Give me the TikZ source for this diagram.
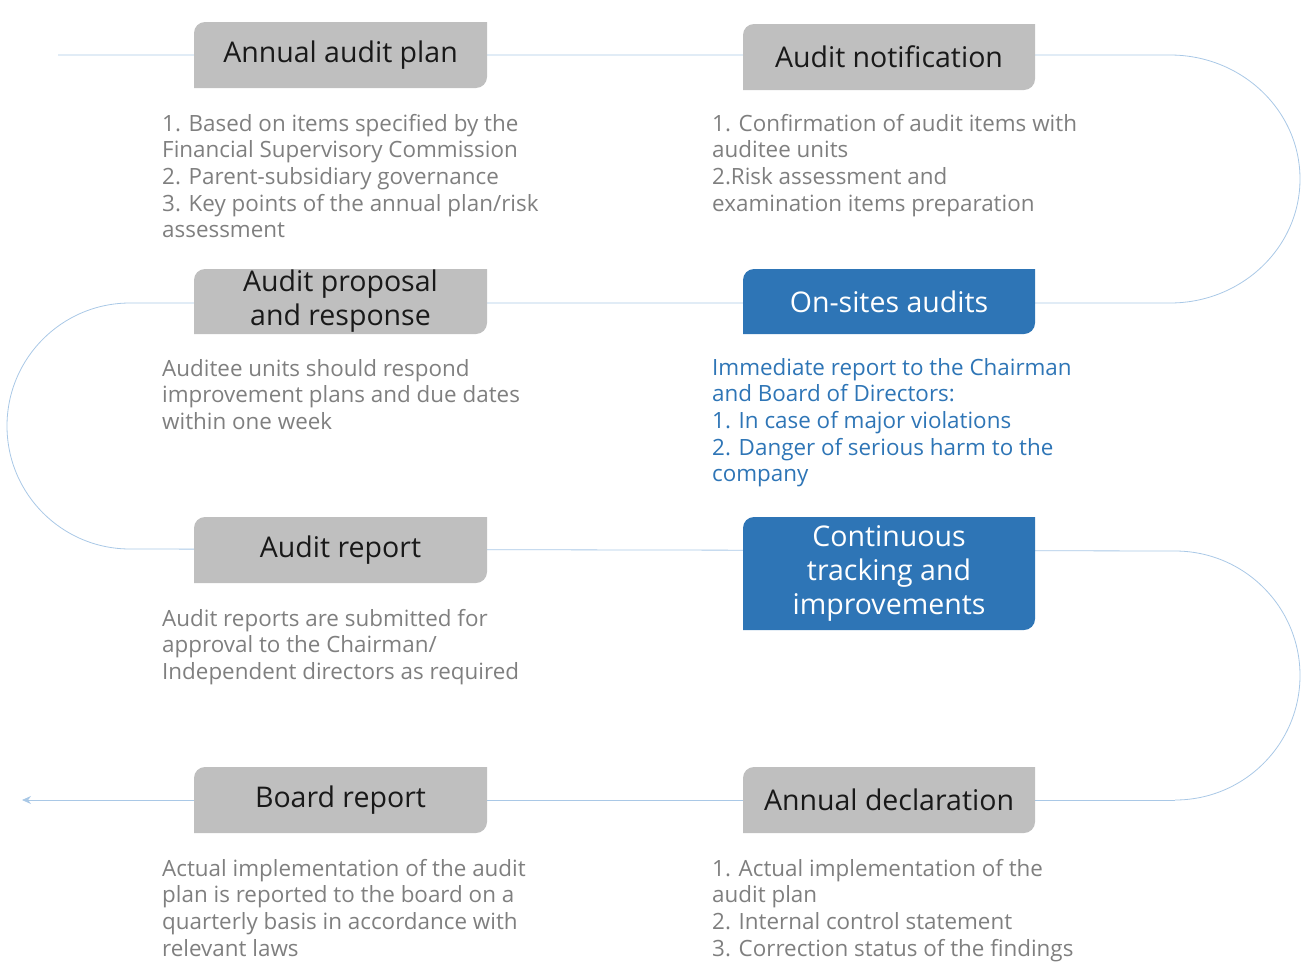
\documentclass[tikz,border=0pt]{standalone}
\usepackage{fontspec}
\usetikzlibrary{arrows.meta}
\setmainfont{Open Sans}
\begin{document}
\begin{tikzpicture}[x=1pt,y=-1pt,
  ln/.style={draw=lblue,line width=0.8pt},
  ttl/.style={align=center,font=\fontsize{28.5}{34}\selectfont},
  body/.style={anchor=north west,align=left,inner sep=0,font=\fontsize{22.4}{26.6}\selectfont,text=tgray},
]
\definecolor{lblue}{HTML}{A9C8E6}
\definecolor{bgray}{HTML}{BFBFBF}
\definecolor{bblue}{HTML}{2E75B6}
\definecolor{tgray}{HTML}{7F7F7F}
\useasboundingbox (0,0) rectangle (1315,977);
% connectors
\coordinate (s) at (58,55);
\coordinate (r1) at (1170,55);
\coordinate (r2) at (1170,303);
\coordinate (l2) at (130,303);
\coordinate (l3) at (130,549);
\coordinate (r3) at (1175,551);
\coordinate (r4) at (1175,800);
\coordinate (e) at (22,800);
\draw[ln] (s) -- (r1) arc[start angle=-90,end angle=90,x radius=130,y radius=124] -- (l2)
  arc[start angle=-90,end angle=-270,x radius=123,y radius=123] -- (r3)
  arc[start angle=-90,end angle=90,x radius=125,y radius=124.5];
\draw[ln,-{Stealth[length=9,width=8]}] (r4) -- (e);
% boxes
\newcommand\bx[8]{%
 \fill[#6] (#2,#5) -- (#2,#3+11) arc[start angle=180,end angle=270,radius=11] -- (#4,#3) -- (#4,#5-11) arc[start angle=0,end angle=90,radius=11] -- cycle;
 \node[ttl,text=#7] (#1) at ({(#2+#4)/2},{(#3+#5)/2}) {#8};}
\bx{a}{194}{22}{487}{88}{bgray}{black!90}{Annual audit plan}
\bx{b}{743}{24}{1035}{90}{bgray}{black!90}{Audit notification}
\bx{c}{194}{269}{487}{334}{bgray}{black!90}{Audit proposal\\and response}
\bx{d}{743}{269}{1035}{334}{bblue}{white}{On-sites audits}
\bx{f}{194}{517}{487}{583}{bgray}{black!90}{Audit report}
\bx{g}{743}{517}{1035}{630}{bblue}{white}{Continuous\\tracking and\\improvements}
\bx{h}{194}{767}{487}{833}{bgray}{black!90}{Board report}
\bx{i}{743}{767}{1035}{833}{bgray}{black!90}{Annual declaration}
% texts
\node[body] (ta) at (162,114) {1. Based on items specified by the\\Financial Supervisory Commission\\2. Parent-subsidiary governance\\3. Key points of the annual plan/risk\\assessment};
\node[body] (tb) at (712,114) {1. Confirmation of audit items with\\auditee units\\2.Risk assessment and\\examination items preparation};
\node[body] (tc) at (162,359) {Auditee units should respond\\improvement plans and due dates\\within one week};
\node[body,text=bblue] (td) at (712,358) {Immediate report to the Chairman\\and Board of Directors:\\1. In case of major violations\\2. Danger of serious harm to the\\company};
\node[body] (tf) at (162,609) {Audit reports are submitted for\\approval to the Chairman/\\Independent directors as required};
\node[body] (th) at (162,859) {Actual implementation of the audit\\plan is reported to the board on a\\quarterly basis in accordance with\\relevant laws};
\node[body] (ti) at (712,859) {1. Actual implementation of the\\audit plan\\2. Internal control statement\\3. Correction status of the findings};
\end{tikzpicture}
\end{document}
